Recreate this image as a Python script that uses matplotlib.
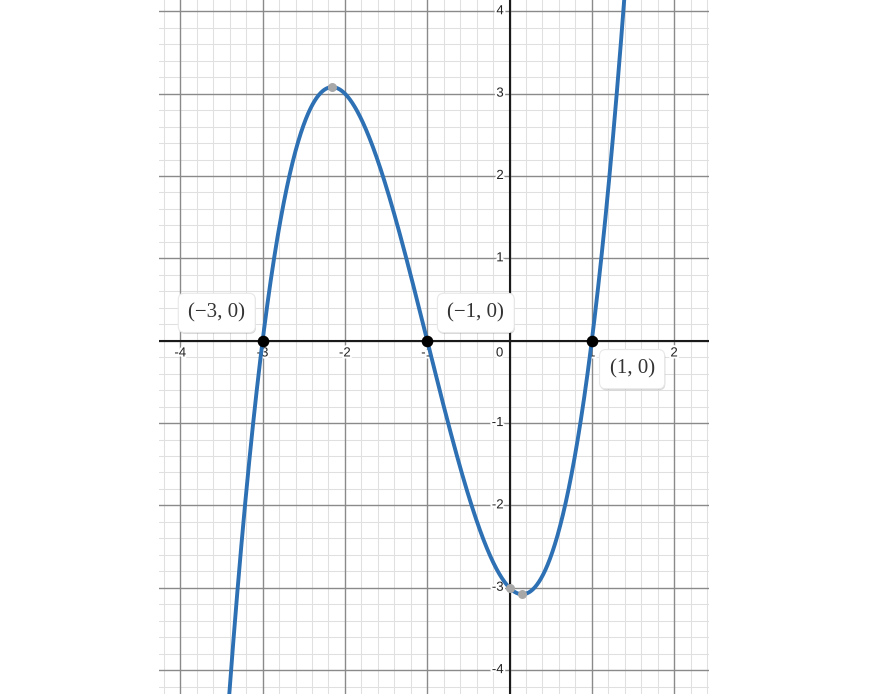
import numpy as np
import matplotlib
matplotlib.use("Agg")
import matplotlib.pyplot as plt
import matplotlib.patheffects as pe

# ---- data ----
roots = [-3, -1, 1]                      # zeros of the cubic
x_ticks = [-4, -3, -2, -1, 0, 1, 2]
y_ticks = [-4, -3, -2, -1, 1, 2, 3, 4]
x_tick_labels = ["-4", "-3", "-2", "-1", "0", "1", "2"]
y_tick_labels = ["-4", "-3", "-2", "-1", "1", "2", "3", "4"]
root_labels = ["(\u22123, 0)", "(\u22121, 0)", "(1, 0)"]
root_label_offsets = [(-33, 20), (35, 20), (29, -20.5)]   # points

xlim = (-4.253, 2.424)
ylim = (-4.29, 4.137)

coef = np.poly(roots)
crit_x = np.roots(np.polyder(coef))
crit_y = np.polyval(coef, crit_x)
yint = np.polyval(coef, 0.0)

fig = plt.figure(figsize=(8.70, 6.94), dpi=100)
ax = fig.add_axes([159.5 / 870, 0, 549.5 / 870, 1])
ax.set_xlim(*xlim)
ax.set_ylim(*ylim)
for s in ax.spines.values():
    s.set_visible(False)
ax.set_xticks([])
ax.set_yticks([])

# grid
for k in range(-25, 26):
    v = k / 5.0
    major = (k % 5 == 0)
    c = "#8a8a8a" if major else "#e0e0e0"
    lw = 1.0 if major else 0.75
    z = 0.6 if major else 0.5
    ax.axvline(v, color=c, lw=lw, zorder=z)
    ax.axhline(v, color=c, lw=lw, zorder=z)
ax.axhline(0, color="#1a1a1a", lw=1.5, zorder=1)
ax.axvline(0, color="#1a1a1a", lw=1.5, zorder=1)

# tick labels
halo = [pe.withStroke(linewidth=3, foreground="white")]
tick_font = dict(family="Liberation Sans", fontsize=9.5, color="#222222")
for t, lab in zip(x_ticks, x_tick_labels):
    xx = t - 0.12 if t == 0 else t
    ax.text(xx, -0.155, lab, ha="center", va="center", zorder=3,
            path_effects=halo, **tick_font)
for t, lab in zip(y_ticks, y_tick_labels):
    ax.text(-0.07, t, lab, ha="right", va="center", zorder=3,
            path_effects=halo, **tick_font)

# curve
xs = np.linspace(xlim[0] - 0.1, xlim[1] + 0.1, 2000)
ax.plot(xs, np.polyval(coef, xs), color="#2d70b3", lw=2.8, zorder=4,
        solid_capstyle="round")

# gray points
ax.scatter(crit_x, crit_y, s=42, color="#a8a8a8", zorder=5, linewidths=0)
ax.scatter([0], [yint], s=42, color="#a8a8a8", zorder=5, linewidths=0)

# roots
ax.scatter(roots, [0] * len(roots), s=70, color="black", zorder=6, linewidths=0)

for r, lab, off in zip(roots, root_labels, root_label_offsets):
    t = ax.annotate(lab, xy=(r, 0), xytext=off, textcoords="offset points",
                    ha="center", va="center", fontsize=15, color="#333333",
                    family="Liberation Serif", zorder=7,
                    bbox=dict(boxstyle="round,pad=0.48,rounding_size=0.3",
                              fc="white", ec="#e8e8e8", lw=0.8))
    t.get_bbox_patch().set_path_effects(
        [pe.SimplePatchShadow(offset=(0.5, -1), alpha=0.16, shadow_rgbFace="#000000"),
         pe.Normal()])

fig.savefig("out.png", dpi=100)
